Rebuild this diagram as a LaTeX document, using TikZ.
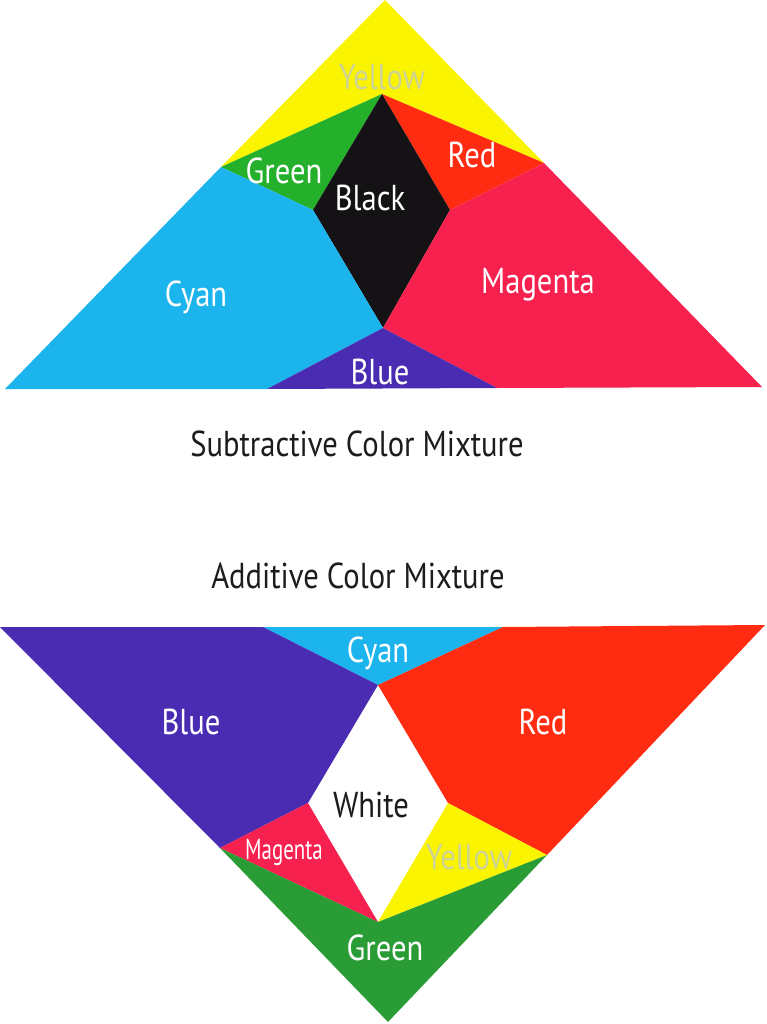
\documentclass[tikz,border=0pt]{standalone}
\usepackage{fontspec}
\newfontfamily\labfont[FakeStretch=0.85]{PT Sans}
\newfontfamily\narfont[FakeStretch=0.72]{PT Sans}
\definecolor{cYellow}{HTML}{FAF400}
\definecolor{cGreen}{HTML}{25B02C}
\definecolor{cBlack}{HTML}{141214}
\definecolor{cRed}{HTML}{FF2C12}
\definecolor{cCyan}{HTML}{1CB4EC}
\definecolor{cMagenta}{HTML}{F7214F}
\definecolor{cBlue}{HTML}{4A2CB2}
\definecolor{cGreenB}{HTML}{2A9C36}
\definecolor{cYtext}{HTML}{CDD496}
\definecolor{cTitle}{HTML}{1C1C1C}
\begin{document}
\begin{tikzpicture}[x=1pt,y=-1pt,
  lab/.style={font=\labfont\fontsize{36}{36}\selectfont,text=white,inner sep=0pt},
  title/.style={font=\labfont\fontsize{36}{36}\selectfont,text=cTitle,inner sep=0pt}]
\useasboundingbox[fill=white] (0,0) rectangle (767,1024);
% ---------- top triangle (subtractive) ----------
\coordinate (tA) at (385,0);
\coordinate (tL) at (5,389);
\coordinate (tR) at (762,387);
\coordinate (tGl) at (221,167);
\coordinate (tYr) at (544,163);
\coordinate (tK) at (382,94);
\coordinate (tKl) at (313,210);
\coordinate (tKr) at (450,210);
\coordinate (tKb) at (383,328);
\coordinate (tBl) at (267,389);
\coordinate (tBr) at (497,388);
\fill[cYellow] (tA) -- (tGl) -- (tK) -- (tYr) -- cycle;
\fill[cGreen] (tGl) -- (tK) -- (tKl) -- cycle;
\fill[cRed] (tK) -- (tYr) -- (tKr) -- cycle;
\fill[cBlack] (tK) -- (tKr) -- (tKb) -- (tKl) -- cycle;
\fill[cCyan] (tGl) -- (tKl) -- (tKb) -- (tBl) -- (tL) -- cycle;
\fill[cMagenta] (tYr) -- (tR) -- (tBr) -- (tKb) -- (tKr) -- cycle;
\fill[cBlue] (tKb) -- (tBr) -- (tBl) -- cycle;
\node[lab,text=cYtext] (nY) at (382,77) {Yellow};
\node[lab] (nG) at (284,171) {Green};
\node[lab] (nK) at (370,198) {Black};
\node[lab] (nR) at (472,155) {Red};
\node[lab] (nC) at (196,297) {Cyan};
\node[lab] (nM) at (538,285) {Magenta};
\node[lab] (nB) at (380,372) {Blue};
\node[title] (sub) at (357,444) {Subtractive Color Mixture};
\node[title] (add) at (358,576) {Additive Color Mixture};
% ---------- bottom triangle (additive) ----------
\coordinate (bL) at (0,627);
\coordinate (bR) at (765,625);
\coordinate (bA) at (388,1022);
\coordinate (bCl) at (263,627);
\coordinate (bCr) at (503,627);
\coordinate (bW) at (378,685);
\coordinate (bWl) at (308,803);
\coordinate (bWr) at (448,803);
\coordinate (bWb) at (378,922);
\coordinate (bMl) at (220,848);
\coordinate (bYr) at (547,855);
\fill[cCyan] (bCl) -- (bCr) -- (bW) -- cycle;
\fill[cBlue] (bL) -- (bCl) -- (bW) -- (bWl) -- (bMl) -- cycle;
\fill[cRed] (bCr) -- (bR) -- (bYr) -- (bWr) -- (bW) -- cycle;
\fill[cMagenta] (bMl) -- (bWl) -- (bWb) -- cycle;
\fill[cYellow] (bWr) -- (bYr) -- (bWb) -- cycle;
\fill[cGreenB] (bMl) -- (bWb) -- (bYr) -- (bA) -- cycle;
\node[lab] (mC) at (378,653) {Cyan};
\node[lab] (mB) at (191,722) {Blue};
\node[lab] (mR) at (543,722) {Red};
\node[lab,text=cTitle] (mW) at (371,805) {White};
\node[lab,font=\narfont\fontsize{29}{29}\selectfont] (mM) at (284,852) {Magenta};
\node[lab,text=cYtext] (mY) at (469,857) {Yellow};
\node[lab] (mG) at (385,948) {Green};
\end{tikzpicture}
\end{document}
